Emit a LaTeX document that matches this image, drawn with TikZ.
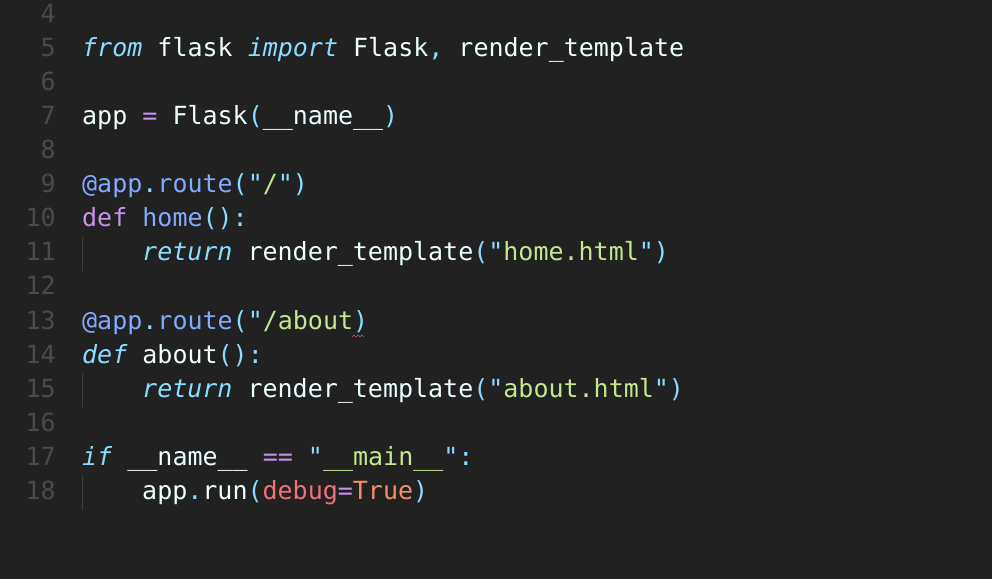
\documentclass[tikz,border=0pt]{standalone}
\usepackage{fontspec}
\newfontfamily\code{DejaVu Sans Mono}
\definecolor{bg}{HTML}{212121}
\definecolor{ln}{HTML}{4A4A4A}
\definecolor{fg}{HTML}{EEFFFF}
\definecolor{kw}{HTML}{89DDFF}
\definecolor{fn}{HTML}{82AAFF}
\definecolor{pu}{HTML}{C792EA}
\definecolor{st}{HTML}{C3E88D}
\definecolor{rd}{HTML}{F07178}
\definecolor{or}{HTML}{F78C6C}
\newcommand\kw[1]{\textcolor{kw}{\itshape #1}}
\newcommand\cc[2]{\textcolor{#1}{#2}}
\begin{document}
\begin{tikzpicture}[x=1bp,y=-1bp,
  codeline/.style={anchor=base west,inner sep=0,font=\code\fontsize{25bp}{30bp}\selectfont,text=fg},
  lnum/.style={anchor=base east,inner sep=0,font=\code\fontsize{25bp}{30bp}\selectfont,text=ln},
  guide/.style={draw=ln!70!bg,line width=0.8bp}]
\fill[bg] (0,0) rectangle (992,579);
\useasboundingbox (0,0) rectangle (992,579);
\foreach \n [count=\i from 0] in {4,...,18}
  \node[lnum] (n\n) at (56,{23+34*\i}) {\n};
\node[codeline] (l5) at (82,57) {\kw{from} flask \kw{import} Flask\cc{kw}{,} render\_template};
\node[codeline] (l7) at (82,125) {app \cc{pu}{=} Flask\cc{kw}{(}\_\_name\_\_\cc{kw}{)}};
\node[codeline] (l9) at (82,193) {\cc{fn}{@app}\cc{kw}{.}\cc{fn}{route}\cc{kw}{("}\cc{st}{/}\cc{kw}{")}};
\node[codeline] (l10) at (82,227) {\cc{pu}{def} \cc{fn}{home}\cc{kw}{():}};
\node[codeline] (l11) at (142,261) {\kw{return} render\_template\cc{kw}{("}\cc{st}{home.html}\cc{kw}{")}};
\node[codeline] (l13) at (82,329) {\cc{fn}{@app}\cc{kw}{.}\cc{fn}{route}\cc{kw}{("}\cc{st}{/about}\cc{kw}{)}};
\node[codeline] (l14) at (82,363) {\kw{def} about\cc{kw}{():}};
\node[codeline] (l15) at (142,397) {\kw{return} render\_template\cc{kw}{("}\cc{st}{about.html}\cc{kw}{")}};
\node[codeline] (l17) at (82,465) {\kw{if} \_\_name\_\_ \cc{pu}{==} \cc{kw}{"}\cc{st}{\_\_main\_\_}\cc{kw}{":}};
\node[codeline] (l18) at (142,499) {app\cc{kw}{.}run\cc{kw}{(}\cc{rd}{debug}\cc{pu}{=}\cc{or}{True}\cc{kw}{)}};
\draw[guide] (82,237) -- (82,271);
\draw[guide] (82,373) -- (82,407);
\draw[guide] (82,475) -- (82,510);
\draw[rd!80!black,line width=0.6bp] (352,337) -- (354,335) -- (356,337) -- (358,335) -- (360,337) -- (362,335) -- (364,337);
\end{tikzpicture}
\end{document}
